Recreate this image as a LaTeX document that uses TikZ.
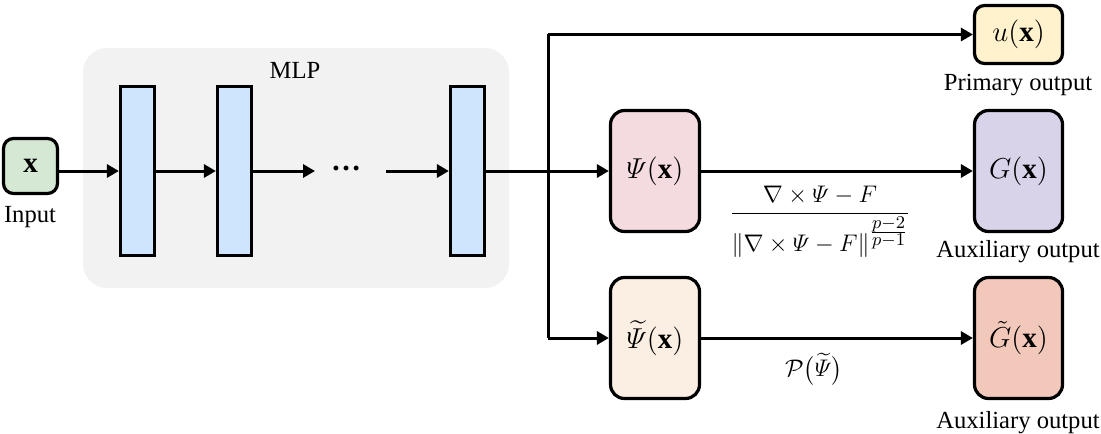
\documentclass[tikz,border=0pt]{standalone}
\usepackage{amsmath}
\usepackage{fontspec}
\setmainfont{Liberation Serif}
\usetikzlibrary{arrows.meta}
\definecolor{cin}{RGB}{213,232,212}
\definecolor{clayer}{RGB}{207,229,253}
\definecolor{cbg}{RGB}{242,242,242}
\definecolor{cu}{RGB}{255,242,204}
\definecolor{cpsi}{RGB}{243,219,224}
\definecolor{cg}{RGB}{217,211,233}
\definecolor{cpsit}{RGB}{251,239,227}
\definecolor{cgt}{RGB}{242,200,186}
\begin{document}
\begin{tikzpicture}[x=0.5pt,y=-0.5pt,
  font=\fontsize{12.3}{14}\selectfont,
  box/.style={draw, line width=1.6pt, inner sep=0pt, font=\fontsize{14.5}{16}\selectfont},
  layer/.style={draw, line width=1.6pt, fill=clayer, minimum width=17pt, minimum height=84.5pt, inner sep=0pt},
  conn/.style={line width=1.5pt, line join=miter},
  arr/.style={conn, -{Triangle[length=6pt,width=6.5pt]}},
  lbl/.style={inner sep=0pt}]
\useasboundingbox (0,0) rectangle (1101,433);
% MLP background
\node[fill=cbg, rounded corners=12pt, minimum width=213pt, minimum height=120pt, inner sep=0pt] (mlp) at (296,168) {};
\node[lbl] (mlplbl) at (295,70) {MLP};
% input
\node[box, fill=cin, rounded corners=5pt, minimum width=27pt, minimum height=27.5pt] (in) at (30.5,166) {$\mathbf{x}$};
\node[lbl] (inlbl) at (30,217) {Input};
% layers
\node[layer] (l1) at (137.5,171) {};
\node[layer] (l2) at (234.5,171) {};
\node[layer] (l3) at (467.5,171) {};
\node[lbl, font=\fontsize{15}{18}\selectfont\bfseries] (dots) at (346,168) {…};
\coordinate (d1) at (315,171);
\coordinate (d2) at (386,171);
% heads
\node[box, fill=cu, rounded corners=5pt, minimum width=44pt, minimum height=29pt] (u) at (1018.5,34.5) {$u(\mathbf{x})$};
\node[lbl] (ulbl) at (1018,85) {Primary output};
\node[box, fill=cpsi, rounded corners=7pt, minimum width=44.5pt, minimum height=60.5pt] (psi) at (655,171) {$\varPsi(\mathbf{x})$};
\node[box, fill=cg, rounded corners=7pt, minimum width=44pt, minimum height=60.5pt] (g) at (1018.5,171) {$G(\mathbf{x})$};
\node[lbl] (glbl) at (1018,252) {Auxiliary output};
\node[box, fill=cpsit, rounded corners=7pt, minimum width=44.5pt, minimum height=60.5pt] (psit) at (655,338) {$\widetilde{\varPsi}(\mathbf{x})$};
\node[box, fill=cgt, rounded corners=7pt, minimum width=44pt, minimum height=60.5pt] (gt) at (1018.5,338) {$\tilde{G}(\mathbf{x})$};
\node[lbl] (gtlbl) at (1018,423) {Auxiliary output};
% edge labels
\node[lbl] (frac) at (820,222) {$\dfrac{\nabla\times\varPsi-F}{\|\nabla\times\varPsi-F\|^{\frac{\scriptstyle p-2}{\scriptstyle p-1}}}$};
\node[lbl] (plbl) at (814,369) {$\mathcal{P}\bigl(\widetilde{\varPsi}\bigr)$};
% junction
\coordinate (jt) at (548,34.5);
\coordinate (j) at (548,171);
\coordinate (jb) at (548,338);
% connectors
\draw[arr] (in.east |- l1.west) -- (l1.west);
\draw[arr] (l1.east) -- (l2.west);
\draw[arr] (l2.east) -- (d1);
\draw[arr] (d2) -- (l3.west);
\draw[arr] (l3.east) -- (psi.west);
\draw[conn] (jt) -- (jb);
\draw[arr] (jt) -- (u.west);
\draw[arr] (jb) -- (psit.west);
\draw[arr] (psi.east) -- (g.west);
\draw[arr] (psit.east) -- (gt.west);
\end{tikzpicture}
\end{document}
